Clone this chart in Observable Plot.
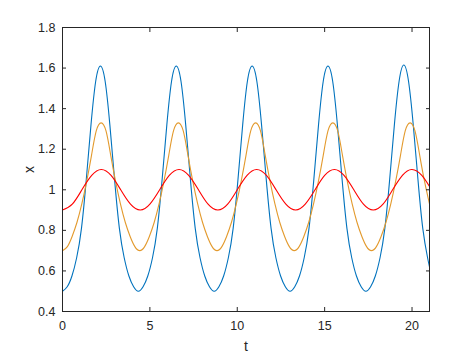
<!DOCTYPE html>
<html><head><meta charset="utf-8">
<script src="https://cdn.jsdelivr.net/npm/d3@7"></script>
<script src="https://cdn.jsdelivr.net/npm/@observablehq/plot@0.6"></script>
<style>body{margin:0;background:#fff}</style>
</head><body><div id="chart"></div>
<script>
const blueT = [0,0.27,0.54,0.81,1.085,1.36,1.63,1.90,2.17,2.44,2.71,2.98,3.255,3.53,3.80,4.07,4.34,
  4.61,4.88,5.15,5.425,5.70,5.97,6.24,6.51,6.78,7.05,7.32,7.595,7.87,8.14,8.41,8.68,
  8.95,9.22,9.49,9.765,10.04,10.31,10.58,10.85,11.12,11.39,11.66,11.935,12.21,12.48,12.75,13.02,
  13.29,13.56,13.83,14.105,14.38,14.65,14.92,15.19,15.46,15.73,16.00,16.275,16.55,16.82,17.09,17.36,
  17.63,17.90,18.17,18.445,18.72,18.99,19.26,19.53,19.80,20.07,20.34,20.615,20.89,21];
const blueX = [0.50,0.522,0.575,0.665,0.81,1.05,1.32,1.535,1.61,1.535,1.32,1.05,0.81,0.665,0.575,0.522,0.50,
  0.522,0.575,0.665,0.81,1.05,1.32,1.535,1.61,1.535,1.32,1.05,0.81,0.665,0.575,0.522,0.50,
  0.522,0.575,0.665,0.81,1.05,1.32,1.535,1.61,1.535,1.32,1.05,0.81,0.665,0.575,0.522,0.50,
  0.522,0.575,0.665,0.81,1.05,1.32,1.535,1.61,1.535,1.32,1.05,0.81,0.665,0.575,0.522,0.50,
  0.522,0.575,0.665,0.81,1.05,1.32,1.535,1.615,1.535,1.32,1.05,0.81,0.665,0.62];

const orangeT = [0,0.28,0.55,0.83,1.105,1.38,1.66,1.93,2.21,2.49,2.76,3.04,3.315,3.59,3.87,4.14,4.42,
  4.70,4.97,5.25,5.525,5.80,6.08,6.35,6.63,6.91,7.18,7.46,7.735,8.01,8.29,8.56,8.84,
  9.12,9.39,9.67,9.945,10.22,10.50,10.77,11.05,11.33,11.60,11.88,12.155,12.43,12.71,12.98,13.26,
  13.54,13.81,14.09,14.365,14.64,14.92,15.19,15.47,15.75,16.02,16.30,16.575,16.85,17.13,17.40,17.68,
  17.96,18.23,18.51,18.785,19.06,19.34,19.61,19.89,20.17,20.44,20.72,21];
const orangeX = [0.70,0.72,0.77,0.84,0.93,1.04,1.17,1.29,1.33,1.29,1.17,1.04,0.93,0.84,0.77,0.72,0.70,
  0.72,0.77,0.84,0.93,1.04,1.17,1.29,1.33,1.29,1.17,1.04,0.93,0.84,0.77,0.72,0.70,
  0.72,0.77,0.84,0.93,1.04,1.17,1.29,1.33,1.29,1.17,1.04,0.93,0.84,0.77,0.72,0.70,
  0.72,0.77,0.84,0.93,1.04,1.17,1.29,1.33,1.29,1.17,1.04,0.93,0.84,0.77,0.72,0.70,
  0.72,0.77,0.84,0.93,1.04,1.17,1.29,1.33,1.29,1.17,1.04,0.93];

const redT = [0,0.56,1.11,1.67,2.22,2.78,3.33,3.89,4.45,5.0,5.56,6.11,6.67,7.22,7.78,8.33,
  8.89,9.45,10.0,10.56,11.11,11.67,12.22,12.78,13.34,13.89,14.45,15.0,15.56,16.11,16.67,17.22,
  17.78,18.34,18.89,19.45,20.0,20.56,21];
const redX = [0.9,0.929,1.0,1.071,1.1,1.071,1.0,0.929,0.9,0.929,1.0,1.071,1.1,1.071,1.0,0.929,
  0.9,0.929,1.0,1.071,1.1,1.071,1.0,0.929,0.9,0.929,1.0,1.071,1.1,1.071,1.0,0.929,
  0.9,0.929,1.0,1.071,1.1,1.071,1.016];

const xTicks = [0,5,10,15,20];
const yTicks = [0.4,0.6,0.8,1,1.2,1.4,1.6,1.8];
const yTickLabels = ["0.4","0.6","0.8","1","1.2","1.4","1.6","1.8"];

const toRows = (T, X) => T.map((t, i) => ({t, x: X[i]}));
const blue = toRows(blueT, blueX), orange = toRows(orangeT, orangeX), red = toRows(redT, redX);
const ink = "#262626";

const chart = Plot.plot({
  width: 474, height: 355,
  marginLeft: 62, marginRight: 45, marginTop: 27, marginBottom: 44,
  style: {fontFamily: "'Liberation Sans', Arial, sans-serif", fontSize: "12px", color: ink, background: "#fff"},
  x: {domain: [0, 21]},
  y: {domain: [0.4, 1.8]},
  marks: [
    Plot.line(blue, {x: "t", y: "x", stroke: "#0072BD", strokeWidth: 1.1, curve: "natural"}),
    Plot.line(orange, {x: "t", y: "x", stroke: "#E39A2D", strokeWidth: 1.1, curve: "natural"}),
    Plot.line(red, {x: "t", y: "x", stroke: "#FF0000", strokeWidth: 1.1, curve: "natural"}),
    Plot.frame({stroke: ink, strokeWidth: 1}),
    Plot.axisX(xTicks, {anchor: "bottom", tickSize: -4, tickPadding: 14, stroke: ink, fill: ink, fontSize: 12.5, label: null}),
    Plot.axisX([], {anchor: "bottom", fill: ink, fontSize: 14,
      label: "t", labelAnchor: "center", labelArrow: "none", labelOffset: 39}),
    Plot.axisX(xTicks, {anchor: "top", tickSize: -4, tickFormat: () => "", label: null, stroke: ink}),
    Plot.axisY(yTicks, {anchor: "left", tickSize: -4, tickPadding: 11, stroke: ink, fill: ink, fontSize: 12.5,
      tickFormat: (d) => yTickLabels[yTicks.indexOf(d)], label: null}),
    Plot.axisY([], {anchor: "left", fill: ink, fontSize: 14,
      label: "x", labelAnchor: "center", labelArrow: "none", labelOffset: 38}),
    Plot.axisY(yTicks, {anchor: "right", tickSize: -4, tickFormat: () => "", label: null, stroke: ink})
  ]
});
document.getElementById("chart").appendChild(chart);
</script>
</body></html>
